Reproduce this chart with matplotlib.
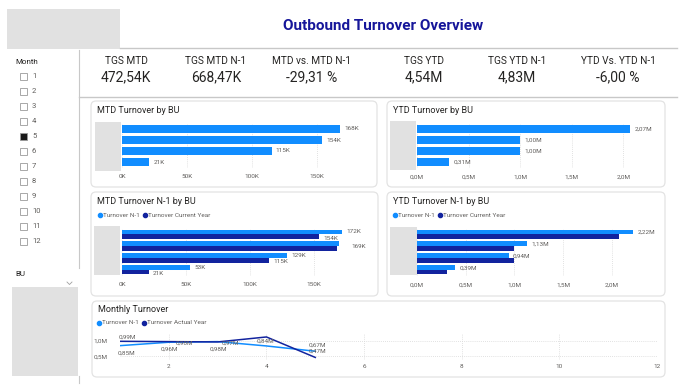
import matplotlib
matplotlib.use("Agg")
import matplotlib.pyplot as plt
from matplotlib.patches import Rectangle, FancyBboxPatch
from matplotlib.ticker import FuncFormatter

plt.rcParams['font.family'] = ['Roboto', 'DejaVu Sans']

# ---- data ----
kpi_labels = ["TGS MTD", "TGS MTD N-1", "MTD vs. MTD N-1", "TGS YTD", "TGS YTD N-1", "YTD Vs. YTD N-1"]
kpi_values = ["472,54K", "668,47K", "-29,31 %", "4,54M", "4,83M", "-6,00 %"]

months = list(range(1, 13))
selected_month = 5

mtd_bu = [168, 154, 115, 21]            # K
ytd_bu = [2.07, 1.00, 1.00, 0.31]       # M

mtd_n1 = [172, 169, 129, 53]            # K
mtd_cy = [154, 168, 115, 21]
mtd_cy_show = [True, False, True, True]

ytd_n1 = [2.22, 1.13, 0.94, 0.39]       # M
ytd_cy = [2.07, 1.00, 1.00, 0.31]

line_months = [1, 2, 3, 4, 5]
line_n1 = [0.85, 0.96, 0.98, 0.84, 0.67]
line_cy = [0.99, 0.98, 0.97, 1.13, 0.47]

LIGHT = "#118DFF"
DARK = "#12239E"
TXT = "#252423"
GREY = "#605E5C"
BOX = "#E1E1E1"

W, H = 680, 389
fig = plt.figure(figsize=(W / 100, H / 100), dpi=100)
fig.set_facecolor("white")

# overlay in pixel coordinates
ov = fig.add_axes([0, 0, 1, 1])
ov.set_xlim(0, W)
ov.set_ylim(H, 0)
ov.axis("off")


def px_axes(x0, y0, x1, y1):
    a = fig.add_axes([x0 / W, 1 - y1 / H, (x1 - x0) / W, (y1 - y0) / H])
    a.set_facecolor("none")
    return a


def panel(x0, y0, x1, y1, title):
    ov.add_patch(FancyBboxPatch((x0, y0), x1 - x0, y1 - y0,
                                boxstyle="round,pad=0,rounding_size=5",
                                fc="white", ec="#E3E3E3", lw=0.9))
    ov.text(x0 + 6, y0 + 9, title, fontsize=6.5, color=TXT, va="center", ha="left")


def legend(x, y, second):
    ov.plot([x], [y], "o", color=LIGHT, ms=3)
    ov.text(x + 3, y, "Turnover N-1", fontsize=4.6, color=GREY, va="center")
    ov.plot([x + 45], [y], "o", color=DARK, ms=3)
    ov.text(x + 48, y, second, fontsize=4.6, color=GREY, va="center")


# header
ov.add_patch(Rectangle((7, 9), 113, 40, fc=BOX, ec="none"))
ov.text(383, 26, "Outbound Turnover Overview", fontsize=11, fontweight="bold",
        color="#16169A", ha="center", va="center")
ov.plot([120, 677], [48, 48], color="#C8C8C8", lw=1)
ov.plot([79, 677], [96.5, 96.5], color="#C8C8C8", lw=1)
ov.plot([79, 79], [50, 268], color="#C8C8C8", lw=0.8)
ov.plot([79, 79], [376, 383], color="#C8C8C8", lw=0.8)

# KPI cards
kpi_x = [126, 216, 312, 424, 517, 618]
for x, lab, val in zip(kpi_x, kpi_labels, kpi_values):
    ov.text(x, 61, lab, fontsize=7.3, color=TXT, ha="center", va="center")
    ov.text(x, 77.5, val, fontsize=10, color=TXT, ha="center", va="center")

# month slicer
ov.text(15, 62, "Month", fontsize=5.8, color=TXT, va="center")
for i, m in enumerate(months):
    y = 76 + 15 * i
    sel = m == selected_month
    ov.add_patch(Rectangle((19.5, y - 3.5), 7, 7, fc="#1A1A1A" if sel else "white",
                           ec="#9A9A9A", lw=0.6))
    ov.text(32, y, str(m), fontsize=5.5, color=GREY, va="center")

ov.text(15, 274, "BU", fontsize=5.8, color=TXT, va="center")
ov.plot([67, 69.5, 72], [282, 284.5, 282], color="#A0A0A0", lw=0.6)
ov.add_patch(Rectangle((12, 287), 66, 89, fc=BOX, ec="none"))

# panels
panel(91, 101, 377, 187, "MTD Turnover by BU")
panel(387, 101, 665, 187, "YTD Turnover by BU")
panel(91, 192, 378, 296, "MTD Turnover N-1 by BU")
panel(387, 192, 665, 296, "YTD Turnover N-1 by BU")
panel(92, 301, 665, 377, "Monthly Turnover")

legend(100, 215, "Turnover Current Year")
legend(395, 215, "Turnover Current Year")
legend(99, 323, "Turnover Actual Year")

# category placeholder boxes
ov.add_patch(Rectangle((95, 122), 26, 49, fc=BOX, ec="none"))
ov.add_patch(Rectangle((390, 121), 26, 49, fc=BOX, ec="none"))
ov.add_patch(Rectangle((94, 226), 26, 49, fc=BOX, ec="none"))
ov.add_patch(Rectangle((390, 227), 27, 48, fc=BOX, ec="none"))

fmt_k_tick = FuncFormatter(lambda v, p: f"{v:.0f}K")
fmt_m_tick = FuncFormatter(lambda v, p: f"{v:.1f}M".replace(".", ","))


def k_lab(v):
    return f"{v:.0f}K"


def m_lab(v):
    return f"{v:.2f}M".replace(".", ",")


def style_bar_axes(a, xmax, ticks, fmt):
    a.set_xlim(0, xmax)
    a.set_ylim(3.5, -0.5)
    a.set_xticks(ticks)
    a.xaxis.set_major_formatter(fmt)
    a.set_yticks([])
    for s in a.spines.values():
        s.set_visible(False)
    a.tick_params(axis="x", length=0, labelsize=4.6, labelcolor=GREY, pad=5)
    a.grid(axis="x", color="#D8D8D8", lw=0.6, ls=(0, (1, 1.5)))
    a.set_axisbelow(True)


# MTD by BU
a1 = px_axes(122, 123.5, 356, 167.5)
style_bar_axes(a1, 180, [0, 50, 100, 150], fmt_k_tick)
pos = list(range(len(mtd_bu)))
a1.barh(pos, mtd_bu, height=0.73, color=LIGHT)
for p, v in zip(pos, mtd_bu):
    a1.annotate(k_lab(v), (v, p), xytext=(3, 0), textcoords="offset points",
                fontsize=4.6, color=GREY, va="center")

# YTD by BU
a2 = px_axes(417, 123.5, 649, 167.5)
style_bar_axes(a2, 2.25, [0, 0.5, 1.0, 1.5, 2.0], fmt_m_tick)
a2.barh(pos, ytd_bu, height=0.73, color=LIGHT)
for p, v in zip(pos, ytd_bu):
    a2.annotate(m_lab(v), (v, p), xytext=(3, 0), textcoords="offset points",
                fontsize=4.6, color=GREY, va="center")

# MTD N-1 by BU
a3 = px_axes(122, 228.5, 359, 275.5)
style_bar_axes(a3, 185, [0, 50, 100, 150], fmt_k_tick)
off = 0.21
a3.barh([p - off for p in pos], mtd_n1, height=0.4, color=LIGHT)
a3.barh([p + off for p in pos], mtd_cy, height=0.4, color=DARK)
for p, v1, v2, show in zip(pos, mtd_n1, mtd_cy, mtd_cy_show):
    if show:
        a3.annotate(k_lab(v1), (v1, p - off), xytext=(3, 0), textcoords="offset points",
                    fontsize=4.6, color=GREY, va="center")
        a3.annotate(k_lab(v2), (v2, p + off), xytext=(3, -1), textcoords="offset points",
                    fontsize=4.6, color=GREY, va="center")
    else:
        a3.annotate(k_lab(v1), (max(v1, v2), p), xytext=(9, 0), textcoords="offset points",
                    fontsize=4.6, color=GREY, va="center")

# YTD N-1 by BU
a4 = px_axes(417, 228.5, 641, 275.5)
style_bar_axes(a4, 2.3, [0, 0.5, 1.0, 1.5, 2.0], fmt_m_tick)
a4.barh([p - off for p in pos], ytd_n1, height=0.4, color=LIGHT)
a4.barh([p + off for p in pos], ytd_cy, height=0.4, color=DARK)
for p, v in zip(pos, ytd_n1):
    a4.annotate(m_lab(v), (v, p - off), xytext=(3, -0.5), textcoords="offset points",
                fontsize=4.6, color=GREY, va="center")

# Monthly turnover
a5 = px_axes(120, 333, 657, 360)
a5.set_xlim(1, 12)
a5.set_ylim(0.387, 1.258)
a5.set_xticks([2, 4, 6, 8, 10, 12])
a5.set_yticks([0.5, 1.0])
a5.yaxis.set_major_formatter(fmt_m_tick)
for s in a5.spines.values():
    s.set_visible(False)
a5.tick_params(length=0, labelsize=4.6, labelcolor=GREY, pad=3)
a5.tick_params(axis="y", pad=9)
a5.grid(color="#D8D8D8", lw=0.6, ls=(0, (1, 1.5)))
a5.set_axisbelow(True)
a5.plot(line_months, line_n1, color=LIGHT, lw=1.1)
a5.plot(line_months, line_cy, color=DARK, lw=1.1)

# label offsets in pixels (dx, dy down), None = label hidden
cy_off = [(7, -4), (16, 1.5), (13, 1), None, (2, -6)]
n1_off = [(6, 7), (0, 7), (1, 7.4), (-1, -5), (2, -6.6)]
for m, v, o in zip(line_months, line_cy, cy_off):
    if o:
        a5.annotate(m_lab(v), (m, v), xytext=(o[0] * 0.72, -o[1] * 0.72),
                    textcoords="offset points", fontsize=4.6, color=GREY,
                    ha="center", va="center", annotation_clip=False)
for m, v, o in zip(line_months, line_n1, n1_off):
    a5.annotate(m_lab(v), (m, v), xytext=(o[0] * 0.72, -o[1] * 0.72),
                textcoords="offset points", fontsize=4.6, color=GREY,
                ha="center", va="center", annotation_clip=False)

fig.savefig("out.png", dpi=100)
